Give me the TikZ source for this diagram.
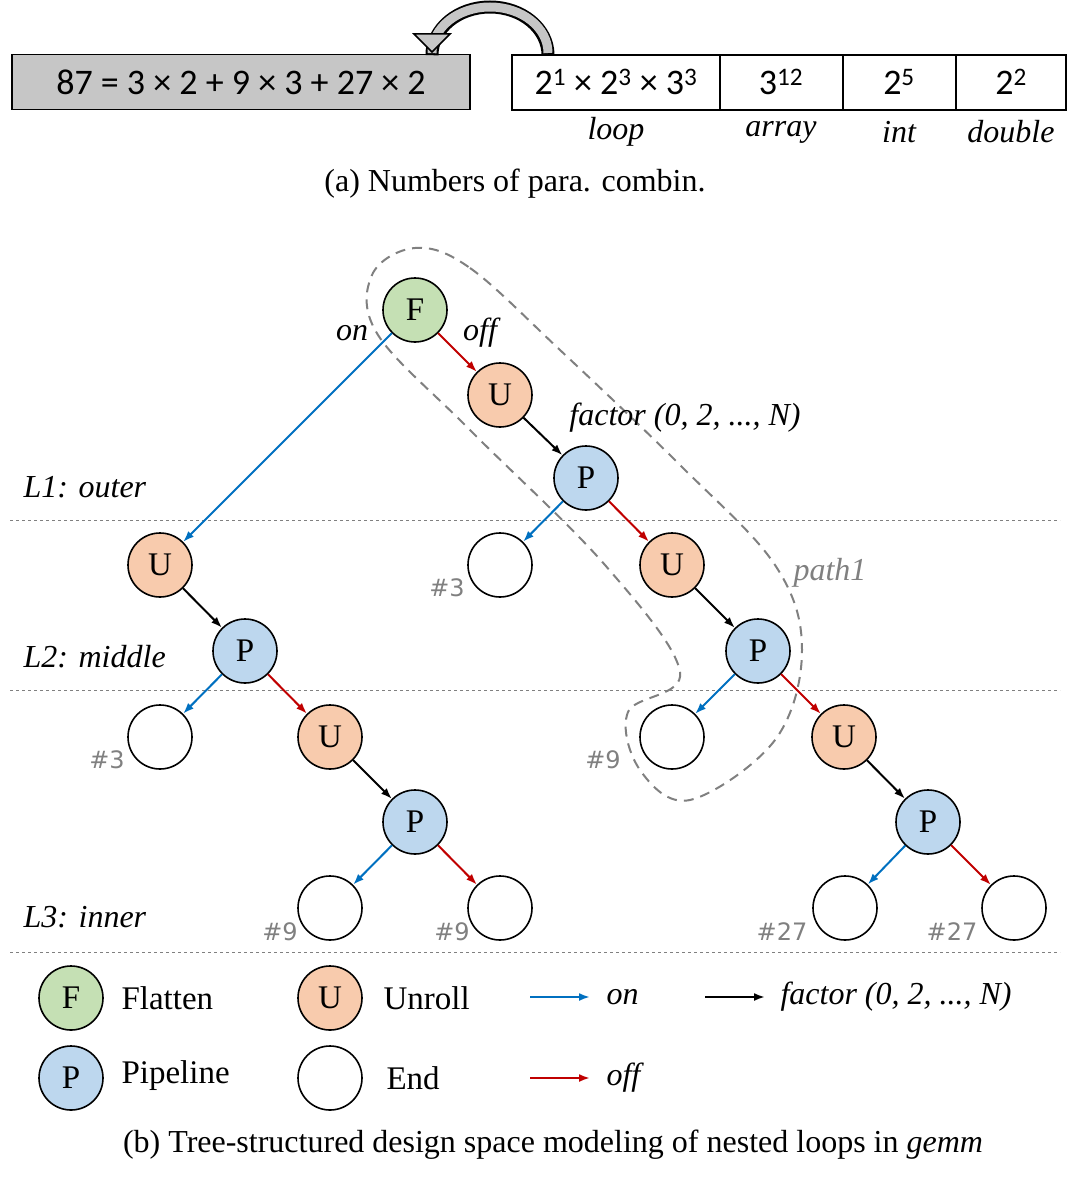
\documentclass[tikz,border=0pt]{standalone}
\usepackage{fontspec}
\setmainfont{Liberation Serif}
\newfontfamily\numfont{DejaVu Sans}
\newfontfamily\boxfont{Carlito}
\usetikzlibrary{calc,arrows.meta}
\definecolor{fgreen}{RGB}{197,224,180}
\definecolor{uorange}{RGB}{248,203,173}
\definecolor{pblue}{RGB}{189,215,238}
\definecolor{onblue}{RGB}{0,112,192}
\definecolor{offred}{RGB}{192,0,0}
\tikzset{%
  >={Latex[length=11pt,width=8pt]}, % option for nice arrows
  knot/.style={circle,draw,line width=1.6pt,minimum size=64pt,inner sep=0pt,
    font=\fontsize{33}{33}\selectfont},
  flat/.style={knot,fill=fgreen},
  unroll/.style={knot,fill=uorange},
  pipe/.style={knot,fill=pblue},
  leaf/.style={knot,fill=white},
  on/.style={->,draw=onblue,line width=2pt},
  off/.style={->,draw=offred,line width=2pt},
  fac/.style={->,draw=black,line width=2pt},
  cnt/.style={text=gray,font=\numfont\fontsize{24}{24}\selectfont},
  level/.style={gray,dashed,line width=1pt},
  lbl/.style={font=\fontsize{32}{32}\selectfont\itshape},
  cell/.style={font=\boxfont\fontsize{36}{36}\selectfont}
}
\begin{document}
\begin{tikzpicture}[x=1pt,y=-1pt]
\useasboundingbox (0,0) rectangle (1080,1188);

% (a) numbers of combinations
\node[draw,line width=1.5pt,fill=gray!45,minimum width=458pt,minimum height=55pt,cell]
  (sum) at (241,82) {87 = 3 × 2 + 9 × 3 + 27 × 2};
\draw[line width=1.5pt] (512,55) rectangle (1066,110);
\foreach \x in {720,843,956} { \draw[line width=1.5pt] (\x,55) -- (\x,110); }
\foreach \t/\x/\s in {loop/616/{2\textsuperscript{1} × 2\textsuperscript{3} × 3\textsuperscript{3}},
    array/781/{3\textsuperscript{12}},int/899/{2\textsuperscript{5}},double/1011/{2\textsuperscript{2}}} {
  \node[cell] (c\t) at (\x,82) {\s};
  \node[lbl] (l\t) at (\x,132) {\t};
}
\draw[line width=13pt] (548,55) arc (0:-180:58 and 48) -- ++(0,-5);
\draw[line width=9pt,gray!45] (548,53) arc (0:-180:58 and 46) -- ++(0,-3);
\filldraw[fill=gray!45,line width=1.5pt] (414,34) -- (450,34) -- (432,52) -- cycle;
\node[font=\fontsize{32}{32}\selectfont] (capa) at (515,184) {(a) Numbers of para. combin.};

% (b) tree
\foreach \y in {520,690,952} { \draw[level] (10,\y) -- (1060,\y); }
\node[lbl,anchor=west] (L1) at (20,487) {L1: outer};
\node[lbl,anchor=west] (L2) at (20,657) {L2: middle};
\node[lbl,anchor=west] (L3) at (20,917) {L3: inner};

\draw[gray,dashed,line width=2pt,dash pattern=on 10pt off 7pt] plot[smooth cycle,tension=0.6] coordinates
  {(415,248) (470,268) (560,350) (680,465) (775,565) (802,650) (775,740) (690,800)
   (640,770) (628,712) (680,672) (605,565) (470,430) (378,335) (372,275)};
\node[lbl,text=gray,anchor=west] (path1) at (790,573) {path1};

\node[flat] (F) at (415,310) {F};
\node[unroll] (U1) at (500,395) {U};
\node[pipe] (P1) at (586,478) {P};
\node[leaf] (E1) at (500,565) {};
\node[unroll] (U2) at (672,565) {U};
\node[pipe] (P2) at (758,651) {P};
\node[leaf] (E2) at (672,737) {};
\node[unroll] (U3) at (844,737) {U};
\node[pipe] (P3) at (928,822) {P};
\node[leaf] (E3) at (845,908) {};
\node[leaf] (E4) at (1014,908) {};
\node[unroll] (U4) at (160,565) {U};
\node[pipe] (P4) at (245,651) {P};
\node[leaf] (E5) at (160,737) {};
\node[unroll] (U5) at (330,737) {U};
\node[pipe] (P5) at (415,822) {P};
\node[leaf] (E6) at (330,908) {};
\node[leaf] (E7) at (500,908) {};

\draw[on] (F) -- (U4);
\draw[off] (F) -- (U1);
\foreach \u/\p in {U1/P1,U2/P2,U3/P3,U4/P4,U5/P5} { \draw[fac] (\u) -- (\p); }
\foreach \p/\a/\b in {P1/E1/U2,P2/E2/U3,P3/E3/E4,P4/E5/U5,P5/E6/E7} {
  \draw[on] (\p) -- (\a);
  \draw[off] (\p) -- (\b);
}
\node[lbl] (lon) at (352,333) {on};
\node[lbl] (loff) at (480,333) {off};
\node[lbl] (lfac) at (685,418) {factor (0, 2, ..., N)};

\node[cnt] (n1) at (447,588) {\#3};
\node[cnt] (n2) at (107,760) {\#3};
\node[cnt] (n3) at (603,760) {\#9};
\node[cnt] (n4) at (280,932) {\#9};
\node[cnt] (n5) at (452,932) {\#9};
\node[cnt] (n6) at (782,932) {\#27};
\node[cnt] (n7) at (952,932) {\#27};

% legend
\node[flat] (kF) at (71,998) {F};
\node[pipe] (kP) at (71,1078) {P};
\node[unroll] (kU) at (330,998) {U};
\node[leaf] (kE) at (330,1078) {};
\node[anchor=west,font=\fontsize{33}{33}\selectfont] (tF) at (118,998) {Flatten};
\node[anchor=west,font=\fontsize{33}{33}\selectfont] (tP) at (118,1076) {Pipeline};
\node[anchor=west,font=\fontsize{33}{33}\selectfont] (tU) at (380,998) {Unroll};
\node[anchor=west,font=\fontsize{33}{33}\selectfont] (tE) at (383,1078) {End};
\coordinate (a1) at (530,997); \coordinate (b1) at (590,997);
\coordinate (a2) at (705,997); \coordinate (b2) at (765,997);
\coordinate (a3) at (530,1078); \coordinate (b3) at (590,1078);
\draw[on] (a1) -- (b1);
\draw[fac] (a2) -- (b2);
\draw[off] (a3) -- (b3);
\node[lbl,anchor=west] (ton) at (603,997) {on};
\node[lbl,anchor=west] (tfac) at (777,997) {factor (0, 2, ..., N)};
\node[lbl,anchor=west] (toff) at (603,1078) {off};
\node[font=\fontsize{32}{32}\selectfont] (capb) at (553,1145)
  {(b) Tree-structured design space modeling of nested loops in \textit{gemm}};
\end{tikzpicture}
\end{document}
